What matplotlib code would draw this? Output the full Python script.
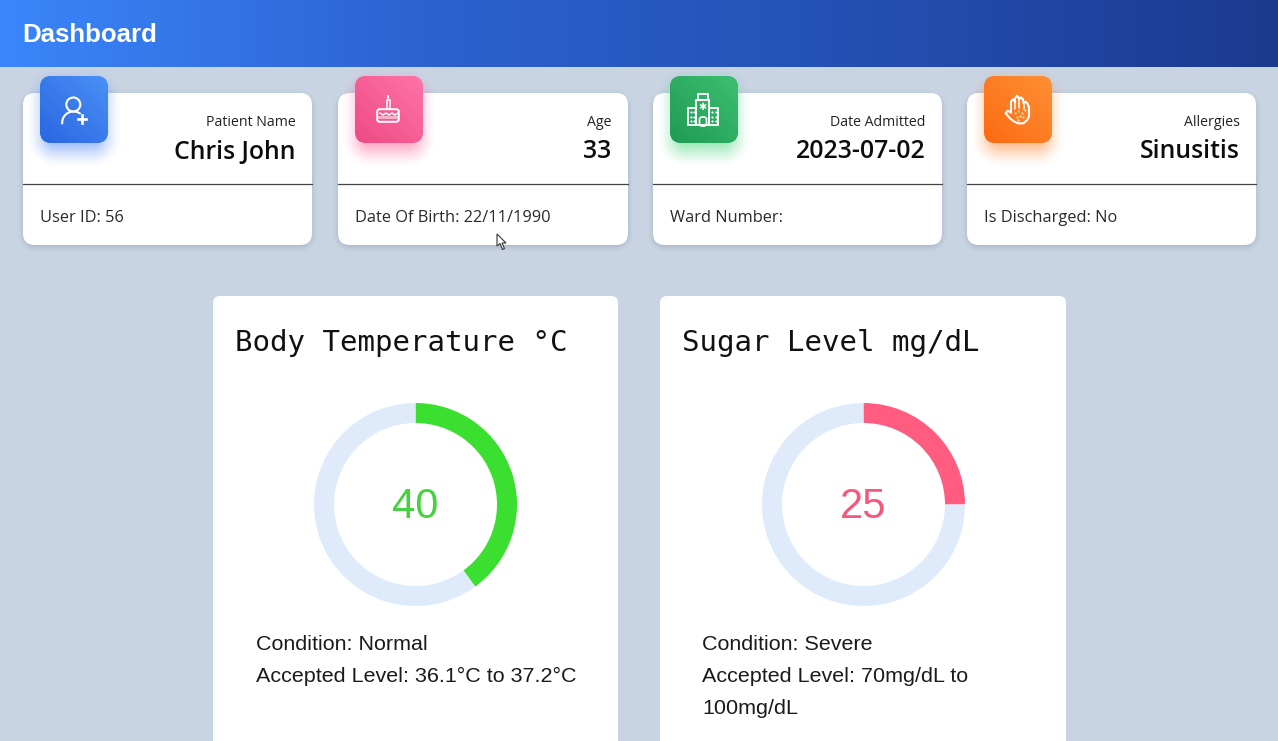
import numpy as np
import matplotlib
matplotlib.use('Agg')
import matplotlib.pyplot as plt
from matplotlib.patches import FancyBboxPatch, Circle, Rectangle, Polygon
from matplotlib.colors import LinearSegmentedColormap, to_rgb

W, H = 1278, 741

# top cards
card_labels = ['Patient Name', 'Age', 'Date Admitted', 'Allergies']
card_values = ['Chris John', '33', '2023-07-02', 'Sinusitis']
card_footers = ['User ID: 56', 'Date Of Birth: 22/11/1990', 'Ward Number:', 'Is Discharged: No']
card_left = [23, 338, 653, 967]
card_right = [312, 628, 942, 1256]
tile_left = [40, 355, 670, 984]
tile_dark = ['#2a66e2', '#ee4a84', '#1f9a55', '#fb6a12']
tile_light = ['#4a90f5', '#ff74a8', '#3cc070', '#ff9035']
tile_glow = ['#3f7ff2', '#ff4f8a', '#34d070', '#ff7a1f']

# gauges
gauge_titles = ['Body Temperature °C', 'Sugar Level mg/dL']
gauge_values = [40, 25]
gauge_max = 100
gauge_colors = ['#3adf30', '#ff5c7f']
gauge_text_colors = ['#46d13e', '#f4587c']
gauge_lines = [['Condition: Normal', 'Accepted Level: 36.1°C to 37.2°C'],
               ['Condition: Severe', 'Accepted Level: 70mg/dL to', '100mg/dL']]
gauge_left = [213, 660]
gauge_right = [618, 1066]
gauge_cx = [415.5, 863.5]
gauge_text_x = [255.5, 702.5]

fig = plt.figure(figsize=(W / 100, H / 100), dpi=100, facecolor='#c9d4e3')
ax = fig.add_axes([0, 0, 1, 1])
ax.set_xlim(0, W)
ax.set_ylim(H, 0)
ax.set_autoscale_on(False)
ax.axis('off')

SANS = 'Open Sans'
ARIAL = 'Liberation Sans'


def round_box(x0, y0, x1, y1, r, **kw):
    p = FancyBboxPatch((x0 + r, y0 + r), x1 - x0 - 2 * r, y1 - y0 - 2 * r,
                       boxstyle='round,pad=%f,rounding_size=%f' % (r, r), **kw)
    ax.add_patch(p)
    return p


def soft_shadow(x0, y0, x1, y1, r, color, blur, alpha, z):
    pad = blur * 2
    xs = np.arange(x0 - pad, x1 + pad)
    ys = np.arange(y0 - pad, y1 + pad)
    gx, gy = np.meshgrid(xs, ys)
    qx = np.abs(gx - (x0 + x1) / 2) - ((x1 - x0) / 2 - r)
    qy = np.abs(gy - (y0 + y1) / 2) - ((y1 - y0) / 2 - r)
    d = np.hypot(np.maximum(qx, 0), np.maximum(qy, 0)) + np.minimum(np.maximum(qx, qy), 0) - r
    t = np.clip(0.5 - d / (2 * blur), 0, 1)
    rgba = np.zeros(gx.shape + (4,))
    rgba[..., :3] = to_rgb(color)
    rgba[..., 3] = alpha * t * t * (3 - 2 * t)
    ax.imshow(rgba, extent=(xs[0], xs[-1], ys[-1], ys[0]), aspect='auto', zorder=z)


# header
cmap = LinearSegmentedColormap.from_list('hdr', ['#3a86fb', '#2c62cf', '#2450b4', '#1b3a8e'])
ax.imshow(np.linspace(0, 1, 256).reshape(1, -1), cmap=cmap, extent=(0, W, 67, 0),
          aspect='auto', zorder=1)
ax.text(22.5, 35, 'Dashboard', color='white', fontsize=18.6, fontweight='bold',
        family=ARIAL, va='center', zorder=3)

# stat cards
for i in range(4):
    x0, x1 = card_left[i], card_right[i]
    soft_shadow(x0, 95, x1, 247, 12, '#7d8ba0', 7, 0.5, 2)
    round_box(x0, 93, x1, 245, 12, fc='white', ec='none', zorder=3)
    ax.plot([x0, x1], [184, 184], color='#444444', lw=0.9, zorder=4)
    ax.text(x1 - 16.5, 123, card_labels[i], fontsize=10.2, family=SANS, ha='right',
            va='center', color='#222222', zorder=5)
    ax.text(x1 - 16.5, 152, card_values[i], fontsize=17.8, family=SANS, fontweight='semibold',
            ha='right', va='center', color='#0c0c0c', zorder=5)
    ax.text(x0 + 17, 218, card_footers[i], fontsize=11.8, family=SANS, ha='left',
            va='center', color='#2a2a2a', zorder=5)

    # icon tile
    tx = tile_left[i]
    soft_shadow(tx + 3, 84, tx + 65, 151, 12, tile_glow[i], 18, 0.6, 4)
    patch = round_box(tx, 76, tx + 68, 143, 12, fc=tile_dark[i], ec='none', zorder=5)
    grad_cmap = LinearSegmentedColormap.from_list('t', [tile_light[i], tile_dark[i]])
    gx, gy = np.meshgrid(np.linspace(1, 0, 40), np.linspace(0, 1, 40))
    im = ax.imshow((gx + gy) / 2, cmap=grad_cmap, extent=(tx, tx + 68, 143, 76),
                   aspect='auto', zorder=5.1)
    im.set_clip_path(patch)

line = dict(color='white', lw=1.5, zorder=6, solid_capstyle='round', solid_joinstyle='round')
thin = dict(color='white', lw=1.1, zorder=6, solid_capstyle='round')
fill = dict(fill=False, ec='white', lw=1.5, zorder=6)

# person icon
ax.add_patch(Circle((73.3, 104.5), 7, **fill))
t = np.radians(np.linspace(175, 305, 30))
ax.plot(73.5 + 11.3 * np.cos(t), 122.5 + 11 * np.sin(t), **line)
ax.plot([77.5, 85.5], [119, 119], color='white', lw=1.9, zorder=6)
ax.plot([81.5, 81.5], [115, 123], color='white', lw=1.9, zorder=6)

# cake icon
ax.add_patch(FancyBboxPatch((378, 110), 20, 11, boxstyle='round,pad=0.8,rounding_size=2.5',
                            fc='none', ec='white', lw=1.4, zorder=6))
ax.plot([380, 383, 386, 389, 392, 395, 398], [113, 115, 113, 115, 113, 115, 113], **thin)
ax.plot([379, 397], [117, 117], color='white', lw=2, alpha=0.55, zorder=6)
ax.add_patch(Rectangle((386.8, 100), 3.2, 9, **dict(fill, lw=1.1)))
ax.plot([388.4, 388.4], [95.5, 98], **line)

# hospital icon
ax.add_patch(Rectangle((696.3, 100), 13, 25, **dict(fill, lw=1.3)))
ax.add_patch(Rectangle((697.8, 94), 10, 6, **dict(fill, lw=1.3)))
ax.add_patch(Rectangle((687.8, 108.3), 8.5, 16.7, **dict(fill, lw=1.3)))
ax.add_patch(Rectangle((709.3, 108.3), 9, 16.7, **dict(fill, lw=1.3)))
ax.add_patch(FancyBboxPatch((700.5, 118), 5, 7, boxstyle='round,pad=1,rounding_size=2.5',
                            fc='none', ec='white', lw=1.2, zorder=6))
ax.text(702.8, 106.8, '✱', color='white', fontsize=7, ha='center', va='center',
        family='DejaVu Sans', zorder=6)
ax.scatter([690.5, 693.5, 690.5, 693.5, 690.5, 693.5, 712, 715.5, 712, 715.5, 712, 715.5],
           [112, 112, 116.5, 116.5, 121, 121, 112, 112, 116.5, 116.5, 121, 121],
           s=2.5, c='white', linewidths=0, zorder=6)

# hand icon
hand_x = np.array([92, 98, 108, 108, 114, 120, 120, 126, 132, 132, 138, 144, 146, 151, 157,
                   162, 162, 155, 145, 130, 118, 105, 92]) / 3 + 975
hand_y = np.array([130, 122, 128, 95, 88, 95, 85, 77, 85, 88, 82, 88, 100, 95, 100,
                   112, 140, 152, 160, 160, 155, 145, 130]) / 3 + 70
ax.plot(hand_x, hand_y, **line)
for xx, y0_, y1_ in [(120, 95, 118), (132, 88, 115), (146, 100, 118)]:
    ax.plot([xx / 3 + 975] * 2, [y0_ / 3 + 70, y1_ / 3 + 70], **thin)
ax.scatter(np.array([120, 130, 140, 150, 125, 135, 145, 130]) / 3 + 975,
           np.array([130, 122, 130, 120, 142, 138, 140, 150]) / 3 + 70,
           s=3, c='#ffd2a0', linewidths=0, zorder=7)

# gauge cards
for i in range(2):
    round_box(gauge_left[i], 296, gauge_right[i], 800, 7, fc='white', ec='none', zorder=2)
    ax.text(gauge_left[i] + 22, 343, gauge_titles[i], fontsize=21, family='DejaVu Sans Mono',
            va='center', color='#111111', zorder=3)

    size = 2 * 101.5
    gax = fig.add_axes([(gauge_cx[i] - 101.5) / W, 1 - (504.5 + 101.5) / H, size / W, size / H])
    gax.pie([gauge_values[i], gauge_max - gauge_values[i]], colors=[gauge_colors[i], '#dfeafb'],
            startangle=90, counterclock=False, radius=1,
            wedgeprops=dict(width=20 / 101.5, edgecolor='none'))
    gax.set_xlim(-1, 1)
    gax.set_ylim(-1, 1)
    gax.patch.set_alpha(0)
    gax.text(0, 0.02, str(gauge_values[i]), fontsize=30, family=ARIAL, ha='center',
             va='center_baseline', color=gauge_text_colors[i])

    for j, txt in enumerate(gauge_lines[i]):
        ax.text(gauge_text_x[i], 644 + j * 32, txt, fontsize=15.45, family=ARIAL, va='center',
                color='#1a1a1a', zorder=3)

# mouse pointer
ax.add_patch(Polygon([(497, 234), (497, 246), (500, 243.5), (502.5, 249.5), (504.5, 248.5),
                      (502, 243), (506, 243)], closed=True, fc='white', ec='#333333', lw=0.8, zorder=8))

ax.set_xlim(0, W)
ax.set_ylim(H, 0)
fig.savefig('out.png', dpi=100, facecolor=fig.get_facecolor())
